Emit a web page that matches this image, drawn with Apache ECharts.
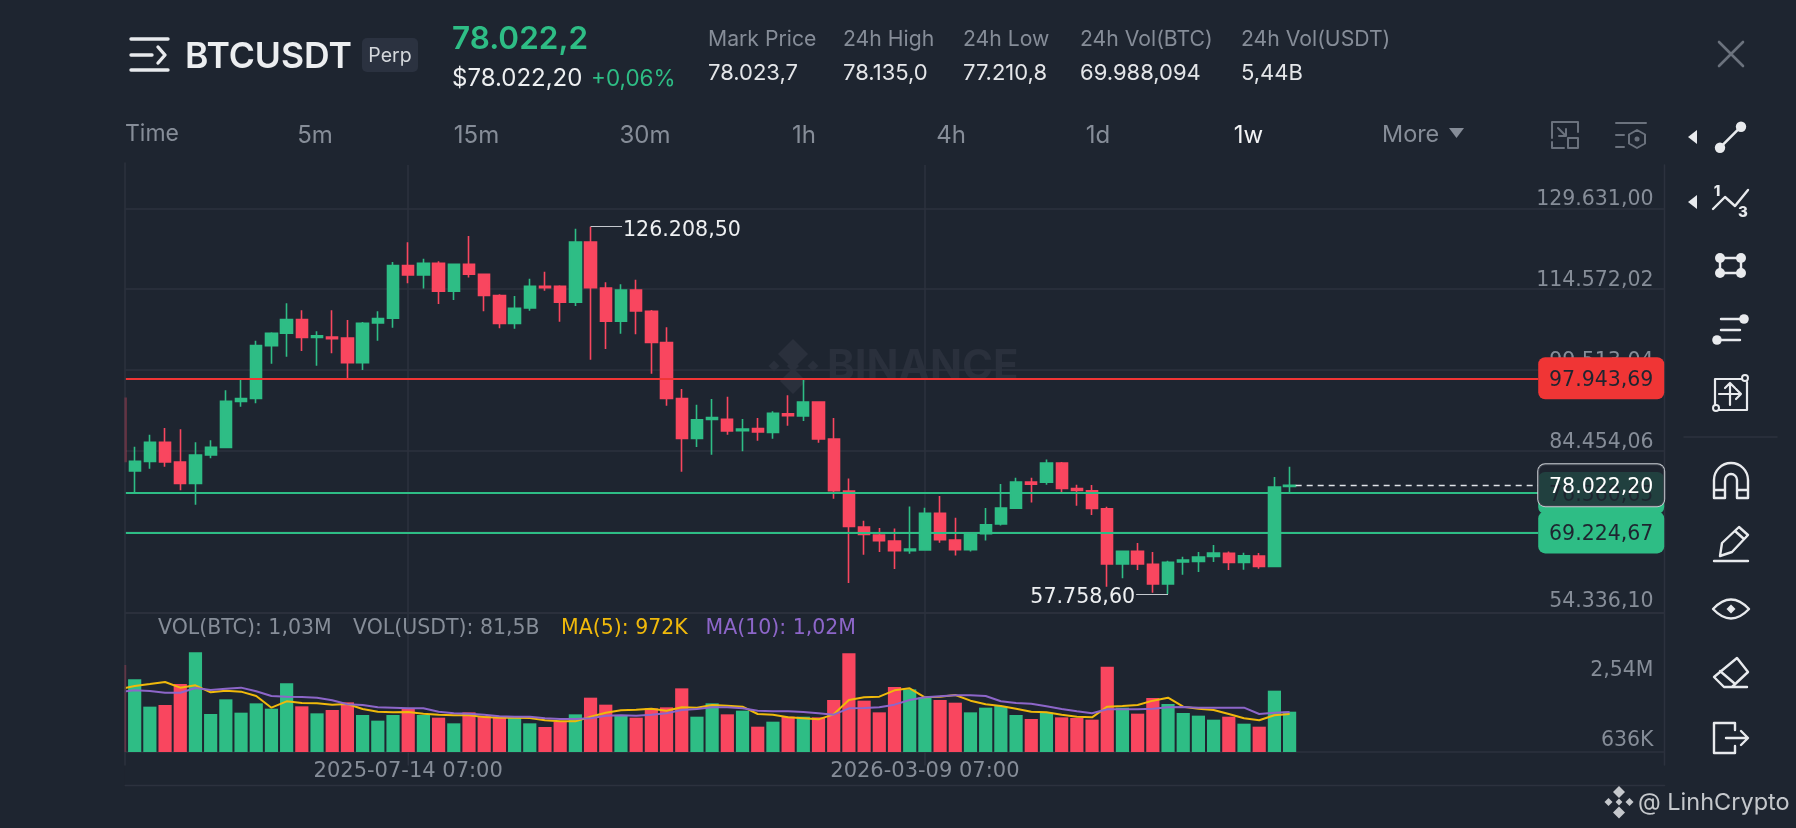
<!DOCTYPE html>
<html><head><meta charset="utf-8">
<style>html,body{margin:0;padding:0;background:#1e2530;overflow:hidden}#c{width:1796px;height:828px}</style>
<script src="https://cdn.jsdelivr.net/npm/echarts@6/dist/echarts.min.js"></script>
</head><body><div id="c"></div>
<script>
const FONT='Inter',CHART_FONT='"DejaVu Sans"';
// The first entry of every array is the week before the visible range, clipped at the left edge (x index -1).
const opens=[94210,
80670,82470,86010,82340,78370,83650,85080,93650,94210,104030,
106330,108880,105580,105650,105460,100860,108260,109130,118940,117200,
119380,114160,119190,117330,113350,108190,111050,115090,115090,112110,
123355,114780,108570,114410,110430,104590,94150,86755,90300,90300,
88180,88560,87870,91350,90920,93530,86615,76930,70220,68730,
67610,65810,65940,72770,67800,66000,68980,70780,73760,78600,
78600,82140,77420,76990,73640,63330,65690,63270,59600,63700,
63820,64760,65320,63640,64820,62890,77800];
const closes=[82470,
82470,86010,82340,78370,83650,85080,93650,94150,104030,106330,
108880,105580,105890,105340,100860,108190,109060,118940,117200,119380,
114160,119190,117330,113410,108190,110990,115090,114840,112110,123355,
114840,108570,114410,110490,104650,94210,86755,90235,90610,88120,
88490,87940,91415,90980,93530,86630,76990,70345,68855,67675,
65810,66120,72770,67860,66000,68980,70655,73760,78600,78230,
82140,77420,77050,73700,63330,65690,63330,59600,63640,64070,
64630,65380,63640,64880,62890,77670,78022.2];
const lows=[82470,
76500,81100,81470,77060,74390,83030,85080,92660,93280,100670,
101980,103040,100300,102600,97880,99490,104960,107385,115650,114660,
111800,112540,116710,110430,107260,107200,110555,114280,108500,111420,
101420,103410,106270,106140,98810,92845,80540,85140,83710,87440,
84330,86320,86690,89120,89990,85950,75500,59790,65070,65560,
62400,65250,65810,67300,64940,65690,67740,70530,73640,74820,
78110,76740,74200,72460,59105,60660,62210,57990,57758.6,61340,
61840,63700,62210,62270,62460,62770,76555];
const highs=[94210,
85200,87440,88680,88430,86010,86380,95700,97750,104960,106515,
111920,110620,106700,110620,108815,108440,110430,119630,123290,120250,
119750,119190,124470,117450,113600,113290,116520,117825,115280,125840,
126208.5,115840,115460,116330,110680,107450,95950,93030,94090,94520,
90360,90545,91790,94770,97750,93530,90530,79290,71400,70035,
69970,74070,73820,76000,71960,69230,73760,78230,79410,79410,
82830,82330,78110,78045,74010,65690,67240,65560,63950,64690,
65560,66870,65690,65440,65380,79540,81460];
// Volumes in thousands of BTC
const volumes=[2367,
1977,1234,1279,1850,2712,1034,1433,1070,1324,1179,
1868,1243,1052,1143,1351,1007,853,1007,1179,1007,
934,780,1079,980,961,943,780,680,825,1025,
1478,1288,980,934,1188,1215,1732,961,1324,1025,
1125,689,825,961,961,943,1415,2685,1397,1079,
1769,1705,1487,1415,1342,1079,1206,1252,1007,898,
1070,943,925,880,2322,1206,1043,1469,1306,1061,
989,880,961,771,689,1669,1097];
const ma5=[1705,
1796,1850,1905,1751,1814,1624,1669,1642,1524,1206,
1379,1333,1324,1288,1306,1170,1097,1079,1088,1043,
1016,998,998,952,934,934,925,862,834,834,
961,1070,1134,1152,1179,1125,1215,1206,1279,1261,
1234,1034,1016,943,916,889,1025,1415,1487,1506,
1678,1732,1487,1506,1551,1397,1297,1252,1179,1097,
1079,1016,961,943,1234,1252,1279,1397,1478,1234,
1179,1143,1034,916,862,998,1034];
const ma10=[1633,
1678,1660,1614,1614,1741,1687,1723,1751,1651,1524,
1506,1497,1478,1406,1297,1279,1215,1206,1188,1188,
1097,1052,1043,1016,970,961,961,916,898,898,
916,989,998,989,1016,1052,1143,1170,1215,1215,
1188,1125,1107,1107,1088,1052,1016,1188,1197,1215,
1288,1415,1487,1515,1542,1542,1524,1379,1333,1315,
1243,1170,1107,1052,1161,1161,1161,1179,1215,1224,
1206,1206,1206,1206,1034,1070,1088];
const priceTicks=[54336.10,69395.09,84454.06,99513.04,114572.02,129631.00];
const priceTickLabels=['54.336,10','69.395,08','84.454,06','99.513,04','114.572,02','129.631,00'];
const volTicks=[636000,2540000];
const volTickLabels=['636K','2,54M'];
const dateTicks=[18,52];
const dateTickLabels=['2025-07-14 07:00','2026-03-09 07:00'];
const statNames=['Mark Price','24h High','24h Low','24h Vol(BTC)','24h Vol(USDT)'];
const statValues=['78.023,7','78.135,0','77.210,8','69.988,094','5,44B'];
const tabNames=['5m','15m','30m','1h','4h','1d','1w'];

const GREEN='#2ebd85',RED='#f9465f',LINE='#2c323e',GRAY='#868d98',ICON='#e8eaed',BG='#1e2530';
const xMin=-0.6034,xMax=100.67;
const isUp=i=>closes[i]>=opens[i];
const candleData=opens.map((o,i)=>[i-1,o,closes[i],lows[i],highs[i]]);
const volData=volumes.map((v,i)=>({value:[i-1,v*1000],itemStyle:{color:isUp(i)?GREEN:RED}}));
const ma5Data=ma5.map((v,i)=>[i-1,v*1000]);
const ma10Data=ma10.map((v,i)=>[i-1,v*1000]);

const g=[];let shapeId=0;
function T(x,y,text,size,fill,o={}){g.push({type:'text',silent:true,z:o.z||10,style:{x,y,text,fill,font:(o.w||'400')+' '+size+'px '+(o.f||FONT),
  align:o.a||'left',verticalAlign:'middle',textAlign:o.a||'left',textVerticalAlign:'middle'}});}
function P(d,stroke,o={}){const name='iconShape'+(shapeId++);
  echarts.graphic.registerShape(name,echarts.graphic.extendPath(d,{}));
  g.push({type:name,silent:true,z:o.z===undefined?10:o.z,style:{stroke:stroke,fill:o.fill||null,lineWidth:o.lw||2.2,lineJoin:'round',lineCap:'round'}});}
function C(x,y,r,fill,o={}){g.push({type:'circle',silent:true,z:10,shape:{cx:x,cy:y,r},style:o.stroke?{stroke:o.stroke,fill:BG,lineWidth:2}:{fill}});}
function D(x,y,r,fill,z){P('M'+(x-r)+' '+y+'L'+x+' '+(y-r)+'L'+(x+r)+' '+y+'L'+x+' '+(y+r)+'Z',null,{fill,z:z===undefined?10:z});}

// the week before the range only shows as a sliver at the left edge
g.push({type:'rect',silent:true,z:10,shape:{x:0,y:160,width:124.4,height:630},style:{fill:BG}});
// header
P('M131 39H168M131 55H152M131 70H168M158 47L165 55L158 63',ICON,{lw:3.4});
T(185,57,'BTCUSDT',35.5,'#eceef0',{w:'600'});
g.push({type:'rect',silent:true,z:9,shape:{x:362,y:38,width:56,height:34,r:5},style:{fill:'#2b3240'}});
T(390,56,'Perp',19.5,'#d5d8dc',{a:'center'});
T(452,40,'78.022,2',31.5,GREEN,{w:'600'});
T(452,79,'$78.022,20',24,'#eceef0');
T(591,79,'+0,06%',22.5,GREEN);
const statX=[708,843,963,1080,1241];
statNames.forEach((s,i)=>{T(statX[i],40,s,21.2,GRAY);T(statX[i],73,statValues[i],22,'#e4e6e9');});
P('M1719 42L1743 66M1743 42L1719 66','#6b727d',{lw:2.6});
// tabs
T(125,134,'Time',23,GRAY);
const tabX=[315,476.5,645,804,951,1098,1248.5];
tabNames.forEach((s,i)=>T(tabX[i],136,s,24,s==='1w'?'#f2f3f5':GRAY,{a:'center'}));
T(1382,135,'More',23.4,GRAY);
P('M1449 128H1464L1456.5 138Z',null,{fill:GRAY});
P('M1552 138V122H1578V132M1552 142V148H1564M1568 138H1578V148H1568ZM1558 128L1566 136M1566 129V136H1559','#6b727d',{lw:2});
P('M1616 123H1646M1616 135H1624M1616 147H1624M1637 130L1645 134.5V143.5L1637 148L1629 143.5V134.5Z','#6b727d',{lw:2});
C(1637,139,2.5,'#6b727d');
// frame lines
P('M125 163V765',LINE,{lw:1.5,z:11});
P('M1664.5 165V765M125 785.5H1664.5M408.3 752V765M925 752V765',LINE,{lw:1.5,z:0});
// right toolbar
[137,202].forEach(y=>P('M1688 '+y+'L1697 '+(y-7)+'V'+(y+7)+'Z',null,{fill:ICON}));
P('M1720 147.7L1741 126.7',ICON,{lw:2.6});C(1720,147.7,5.2,ICON);C(1741,126.7,5.2,ICON);
P('M1713 209L1725 197L1735 206L1748 190',ICON,{lw:2.4});
T(1717,191,'1',15,ICON,{a:'center',w:'800'});T(1743,212,'3',15,ICON,{a:'center',w:'800'});
P('M1720 258H1741V273H1720Z',ICON,{lw:2.4});
[[1720,258],[1741,258],[1720,273],[1741,273]].forEach(p=>C(p[0],p[1],5,ICON));
P('M1721 319H1740M1721 330H1740M1722 340H1740',ICON,{lw:2.4});C(1744,319,4.8,ICON);C(1717,340,4.8,ICON);
P('M1715 379H1744M1747 382V410H1719M1715 406V379M1719 394H1741M1730 383V405M1736 389L1741 394L1736 399M1725 388L1730 383L1735 388',ICON,{lw:2.2});
C(1745,378,3,null,{stroke:ICON});C(1716,408,3,null,{stroke:ICON});
P('M1684 437H1777',LINE,{lw:1.5});
P('M1714 498V480A17 17 0 0 1 1748 480V498H1737V480A6 6 0 0 0 1725 480V498ZM1714 490H1725M1737 490H1748',ICON,{lw:2.4});
P('M1720 556L1722 543L1739 527L1748 535L1732 552ZM1735 531L1744 539M1714 561H1748',ICON,{lw:2.4});
P('M1713 609Q1731 590 1749 609Q1731 628 1713 609Z',ICON,{lw:2.4});D(1731,609,4.5,ICON);
P('M1737 658L1748 672L1732 687H1724L1714 677ZM1720 671L1734 683M1732 687H1747',ICON,{lw:2.4});
P('M1735 730V723H1714V753H1735V746M1726 738H1747M1741 731L1748 738L1741 745',ICON,{lw:2.4});
// watermarks
D(793,354,15,'#2a303c',0);D(774,366,5.5,'#2a303c',0);D(813,366,5.5,'#2a303c',0);D(793,366,6,'#2a303c',0);D(793,381,13,'#2a303c',0);
g.push({type:'text',silent:true,z:0,style:{x:827,y:367,text:'BINANCE',fill:'#2a303c',font:'700 42px '+FONT,align:'left',verticalAlign:'middle',textAlign:'left',textVerticalAlign:'middle'}});
D(1619,792,6,'#c5c8cc');D(1608.5,802,4,'#c5c8cc');D(1629.5,802,4,'#c5c8cc');D(1619,812.5,6,'#c5c8cc');D(1619,802,3.4,'#c5c8cc');
T(1638,803,'@ LinhCrypto',23.5,'#c5c8cc');
// volume legend
T(158,629,'VOL(BTC): 1,03M',20.5,GRAY,{f:CHART_FONT});
T(353,629,'VOL(USDT): 81,5B',20.5,GRAY,{f:CHART_FONT});
T(561,629,'MA(5): 972K',20.5,'#f0b90b',{f:CHART_FONT});
T(705.5,629,'MA(10): 1,02M',20.5,'#8d66c9',{f:CHART_FONT});

// right-hand price tags, carried by the mark lines
function tag(text,bg,fg,border){return {show:true,position:'end',distance:0,formatter:'{t|'+text+'}',
  rich:{t:{width:126,height:37,lineHeight:37,padding:[5,0,0,0],align:'center',fontSize:20.5,fontFamily:CHART_FONT,color:fg,backgroundColor:bg,borderRadius:7,
   borderColor:border||'transparent',borderWidth:border?1:0}}};}
const tagX=92.36;
function hline(v,color,width,label,from,dash){return [{coord:[from===undefined?xMin:from,v],symbol:'none',
   lineStyle:{color,width,type:dash||'solid'},label},{coord:[tagX,v],symbol:'none'}];}
function callout(x,v,x2,text){return [{coord:[x,v],symbol:'none',lineStyle:{color:'#c4c8ce',width:1.2,type:'solid'},
   label:{show:true,position:'end',distance:1,formatter:'{t|'+text+'}',
     rich:{t:{padding:[7,0,0,0],color:'#eef0f2',fontSize:20.6,fontFamily:CHART_FONT}}}},{coord:[x2,v],symbol:'none'}];}

const axisText={color:GRAY,fontFamily:CHART_FONT};
const option={
 backgroundColor:BG,animation:false,
 textStyle:{fontFamily:CHART_FONT},
 graphic:{elements:g},
 grid:[{left:125.5,right:131.5,top:165,height:447.3},{left:125.5,right:131.5,top:612.3,height:139.7}],
 xAxis:[0,1].map(k=>({type:'value',gridIndex:k,min:xMin,max:xMax,
   axisLine:{show:true,onZero:false,lineStyle:{color:LINE,width:1.5}},
   axisTick:{show:false,customValues:dateTicks},
   splitLine:{show:true,lineStyle:{color:LINE,width:1.5}},
   axisLabel:k===0?{show:false,customValues:dateTicks}:{show:true,customValues:dateTicks,margin:9,fontSize:21,...axisText,hideOverlap:false,
     formatter:v=>dateTickLabels[dateTicks.indexOf(v)]||''}})),
 yAxis:[
  {type:'value',gridIndex:0,position:'right',min:54336.1,max:137700,scale:true,
   axisLine:{show:false},axisTick:{show:false,customValues:priceTicks},
   splitLine:{show:true,lineStyle:{color:LINE,width:1.5}},
   axisLabel:{inside:true,margin:11,fontSize:20.5,lineHeight:17,verticalAlign:'bottom',customValues:priceTicks,...axisText,
     rich:{low:{padding:[0,0,3.5,0],lineHeight:17,fontSize:20.5,fontFamily:CHART_FONT,color:GRAY}},
     formatter:v=>{const s=priceTickLabels[priceTicks.indexOf(v)]||'';return v===priceTicks[0]?'{low|'+s+'}':s;}}},
  {type:'value',gridIndex:1,position:'right',min:0,max:3801000,
   axisLine:{show:false},axisTick:{show:false,customValues:volTicks},splitLine:{show:false},
   axisLabel:{inside:true,margin:11,fontSize:20.5,padding:[2,0,0,0],verticalAlign:'top',customValues:volTicks,...axisText,
     formatter:v=>volTickLabels[volTicks.indexOf(v)]||''}}
 ],
 series:[
  {type:'candlestick',name:'BTCUSDT',xAxisIndex:0,yAxisIndex:0,barWidth:11.8,data:candleData,
   itemStyle:{color:GREEN,color0:RED,borderColor:GREEN,borderColor0:RED,borderWidth:1.6},
   markLine:{silent:true,animation:false,symbol:'none',precision:2,data:[
     hline(97943.69,'#f03535',2,tag('97.943,69','#f03535',BG)),
     hline(76560.65,GREEN,2,tag('76.560,65',GREEN,BG)),
     hline(69224.67,GREEN,2,tag('69.224,67',GREEN,BG)),
     callout(30,126208.5,32.07,'126.208,50'),
     callout(68,57758.6,65.9,'57.758,60'),
     hline(78022.2,'#dfe2e6',1.4,tag('78.022,20','rgba(30,37,48,0.82)','#ffffff','#c9cdd2'),76.4,[6,5])
   ]}},
  {type:'bar',name:'VOL',xAxisIndex:1,yAxisIndex:1,barWidth:13.2,data:volData},
  {type:'line',name:'MA(5)',xAxisIndex:1,yAxisIndex:1,data:ma5Data,symbol:'none',lineStyle:{color:'#f0b90b',width:2},z:4},
  {type:'line',name:'MA(10)',xAxisIndex:1,yAxisIndex:1,data:ma10Data,symbol:'none',lineStyle:{color:'#8d66c9',width:2},z:5}
 ]
};
echarts.init(document.getElementById('c')).setOption(option);
</script></body></html>
